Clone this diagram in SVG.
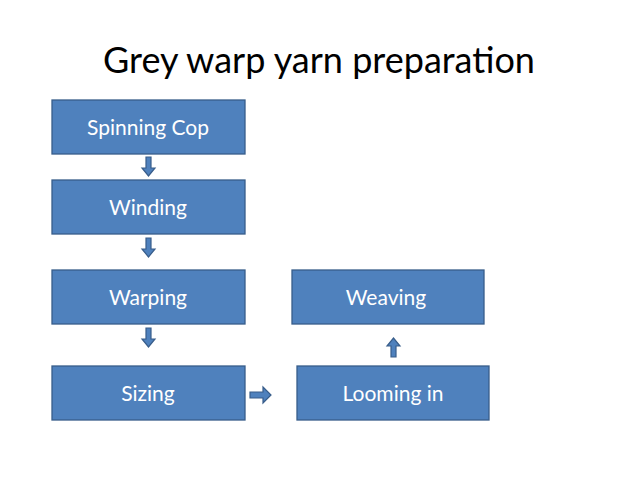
<svg xmlns="http://www.w3.org/2000/svg" width="638" height="478" viewBox="0 0 638 478">
<style>
.b{fill:#4f81bd;stroke:#385d8a;stroke-width:1.3}
.t{font-family:Lato,"Open Sans",sans-serif;font-size:21px;fill:#fff;text-anchor:middle}
.a{fill:#4f81bd;stroke:#385d8a;stroke-width:1.2}
</style>
<rect width="638" height="478" fill="#fff"/>
<text x="319" y="73" font-family="Lato,'Open Sans',sans-serif" font-size="36" text-anchor="middle" fill="#000">Grey warp yarn preparation</text>
<g id="n1"><rect class="b" x="52" y="100" width="193" height="54"/><text class="t" x="148" y="135">Spinning Cop</text></g>
<g id="n2"><rect class="b" x="52" y="180" width="193" height="54"/><text class="t" x="148" y="215">Winding</text></g>
<g id="n3"><rect class="b" x="52" y="270" width="193" height="54"/><text class="t" x="148" y="305">Warping</text></g>
<g id="n4"><rect class="b" x="52" y="366" width="193" height="54"/><text class="t" x="148" y="401">Sizing</text></g>
<g id="n5"><rect class="b" x="292" y="270" width="192" height="54"/><text class="t" x="386" y="305">Weaving</text></g>
<g id="n6"><rect class="b" x="297" y="366" width="192" height="54"/><text class="t" x="393" y="401">Looming in</text></g>
<g id="connectors">
<path class="a" d="M146 157h5v11h4l-6.5 8l-6.5-8h4z"/>
<path class="a" d="M146 238h5v11h4l-6.5 8l-6.5-8h4z"/>
<path class="a" d="M146 328h5v11h4l-6.5 8l-6.5-8h4z"/>
<path class="a" d="M250 392h13v-5l8 8l-8 8v-5h-13z"/>
<path class="a" d="M391 357v-11h-4l6.5-8l6.5 8h-4v11z"/>
</g>
</svg>
